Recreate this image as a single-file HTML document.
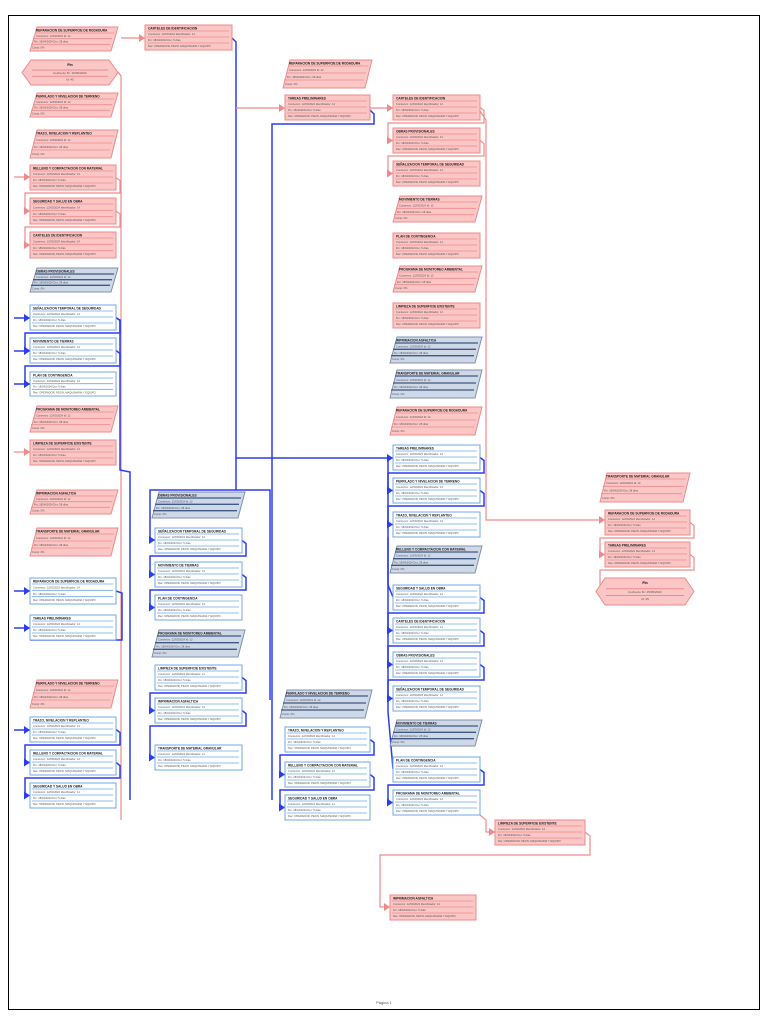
<!DOCTYPE html>
<html><head><meta charset="utf-8"><style>
html,body{margin:0;padding:0;background:#fff;width:768px;height:1024px;overflow:hidden}
#f{position:absolute;left:8px;top:15px;width:752px;height:995px;border:1px solid #000;box-sizing:border-box}
svg{position:absolute;left:0;top:0}
text{font-family:"Liberation Sans",sans-serif}
</style></head><body>
<div id="f"></div>
<svg id="s" width="768" height="1024" viewBox="0 0 768 1024"></svg>
<script>
var S=document.getElementById('s');var h='';
var C={r:['#fbc6c6','#ef8a8a','#ef8a8a'],b:['#ffffff','#6fa8ea','#6fa8ea'],g:['#cfd8e6','#7f90ae','#3f5a86']};
var T=['REPARACION DE SUPERFICIE DE RODADURA','TAREAS PRELIMINARES','PERFILADO Y NIVELACION DE TERRENO','TRAZO, NIVELACION Y REPLANTEO','RELLENO Y COMPACTACION CON MATERIAL','SEGURIDAD Y SALUD EN OBRA','CARTELES DE IDENTIFICACION','OBRAS PROVISIONALES','SEÑALIZACION TEMPORAL DE SEGURIDAD','MOVIMIENTO DE TIERRAS','PLAN DE CONTINGENCIA','PROGRAMA DE MONITOREO AMBIENTAL','LIMPIEZA DE SUPERFICIE EXISTENTE','IMPRIMACION ASFALTICA','TRANSPORTE DE MATERIAL GRANULAR'];
var ti=0;
function box(t,x,y,w,hh,shape){var c=C[t];var x2=x+w,y2=y+hh,p;
 if(shape=='p')p=(x+7)+','+y+' '+x2+','+y+' '+(x2-7)+','+y2+' '+x+','+y2;
 else if(shape=='h')p=x+','+(y+hh/2)+' '+(x+9)+','+y+' '+(x2-9)+','+y+' '+x2+','+(y+hh/2)+' '+(x2-9)+','+y2+' '+(x+9)+','+y2;
 else p=x+','+y+' '+x2+','+y+' '+x2+','+y2+' '+x+','+y2;
 h+='<polygon points="'+p+'" fill="'+c[0]+'" stroke="'+c[1]+'" stroke-width="1"/>';
 var title=T[(ti++)%T.length];
 if(shape=='h'){h+='<text x="'+(x+w/2)+'" y="'+(y+6)+'" font-size="3.5" font-weight="bold" text-anchor="middle">Fin</text>';
  h+='<line x1="'+(x+10)+'" x2="'+(x2-10)+'" y1="'+(y+hh*0.4)+'" y2="'+(y+hh*0.4)+'" stroke="'+c[2]+'" stroke-width="1"/>';
  h+='<text x="'+(x+w/2)+'" y="'+(y+hh*0.55)+'" font-size="3" text-anchor="middle" fill="#555">Fecha de fin: 15/05/2024</text>';
  h+='<line x1="'+(x+10)+'" x2="'+(x2-10)+'" y1="'+(y+hh*0.65)+'" y2="'+(y+hh*0.65)+'" stroke="'+c[2]+'" stroke-width="1"/>';
  h+='<text x="'+(x+w/2)+'" y="'+(y+hh*0.82)+'" font-size="3" text-anchor="middle" fill="#555">Id: 45</text>';return;}
 var o=shape=='p'?5:2;
 h+='<text x="'+(x+o+1)+'" y="'+(y+4.5)+'" font-size="3.2" font-weight="bold" fill="#222">'+title+'</text>';
 var rows=shape=='p'?['Comienzo: 12/03/2024    Id: 12','Fin: 18/04/2024    Dur: 28 días','Comp: 0%']:['Comienzo: 12/03/2024    Identificador: 14','Fin: 18/04/2024    Dur: 5 días','Rec: OPERADOR, PEON, MAQUINARIA Y EQUIPO'];
 for(var i=0;i<3;i++){var ly=y+6+i*(hh-7)/3;var oo=shape=='p'?o-i*2:o;
  h+='<line x1="'+(x+oo)+'" x2="'+(x2-(shape=='p'?4+i*2:3))+'" y1="'+ly+'" y2="'+ly+'" stroke="'+c[2]+'" stroke-width="'+(t=='g'?1.3:0.8)+'"/>';
  h+='<text x="'+(x+oo+1)+'" y="'+(ly+(hh-7)/3*0.7)+'" font-size="2.7" fill="#555">'+rows[i]+'</text>';}
}
function L(col,pts,arrow){var c=col=='b'?'#2b3df0':'#f08a8a';h+='<polyline points="'+pts+'" fill="none" stroke="'+c+'" stroke-width="'+(col=='b'?1.5:1.2)+'"/>';
 if(arrow){var a=arrow;h+='<polygon points="'+a[0]+','+a[1]+' '+(a[0]-6)+','+(a[1]-4)+' '+(a[0]-6)+','+(a[1]+4)+'" fill="'+c+'"/>';}}
function chain(col,x,list,w){for(var i=0;i<list.length-1;i++){var a=list[i],b=list[i+1];var m=(a[0]+a[1])/2,nm=(b[0]+b[1])/2;
 L(col,(x+w)+','+m+' '+(x+w+4)+','+(m+3)+' '+(x+w+4)+','+(a[1]+3)+' '+(x-5)+','+(a[1]+3)+' '+(x-5)+','+nm+' '+x+','+nm,[x,nm]);}}
L('r','118,72 121,76 121,820',null);
L('r','121,38 145,38',[145,38]);
L('b','232,38 236,42 236,458 393,458',[393,458]);
L('r','236,108 285,108',[285,108]);
L('r','370,108 393,108',[393,108]);
L('b','370,110 374,114 374,124 272,124 272,800',null);
L('r','480,111 486,120 486,520 605,520',[605,520]);
L('b','116,318 120,320 120,470 130,472 130,800',null);
chain('r',393,[[95,120],[128,153],[161,186]],87);
chain('b',393,[[445,470],[478,503],[512,537]],87);
chain('b',393,[[585,610],[618,643],[652,677],[686,711]],87);
chain('b',393,[[757,782],[790,815]],87);
chain('b',155,[[528,553],[562,587],[595,620]],87);
chain('b',155,[[665,690],[698,723],[745,770]],87);
chain('b',285,[[727,752],[762,787],[795,820]],85);
chain('r',605,[[510,535],[542,567],[578,605]],85);
chain('b',30,[[305,330],[338,363],[372,396]],86);
chain('b',30,[[717,742],[750,775],[783,808]],86);
chain('r',30,[[165,190],[198,224],[232,258]],86);
L('b','388,537 388,585 393,597',null);
L('r','480,815 486,820 486,832 495,832',[495,832]);
L('r','585,832 590,836 590,855 380,855 380,907 390,907',[390,907]);
L('b','236,458 236,490 150,490 150,540 155,540',[155,540]);
L('b','236,490 270,490 270,700',null);
L('b','116,591 122,593 122,640 30,640',null);
L('b','14,318 30,318',[30,318]);L('b','14,351 30,351',[30,351]);L('b','14,384 30,384',[30,384]);
L('r','14,177 30,177',[30,177]);L('r','14,452 30,452',[30,452]);
L('b','14,591 30,591',[30,591]);L('b','14,628 30,628',[30,628]);
L('b','14,730 30,730',[30,730]);
L('b','388,458 388,712 393,769',null);
var col1=[['r',27,24,'p'],['r',60,25,'h'],['r',93,24,'p'],['r',130,28,'p'],['r',165,25],['r',198,26],['r',232,26],['g',268,24,'p'],['b',305,25],['b',338,25],['b',372,24],['r',406,26,'p'],['r',440,25],['r',490,24,'p'],['r',528,28,'p'],['b',578,26],['b',615,25],['r',680,28,'p'],['b',717,25],['b',750,25],['b',783,25]];
col1.forEach(function(b){box(b[0],b[3]=='h'?22:30,b[1],b[3]=='h'?96:(b[3]=='p'?88:86),b[2],b[3]);});
[['r',25,25,145,87],['g',492,26,152,93,'p'],['b',528,25,155,87],['b',562,25,155,87],['b',595,25,155,87],['g',630,27,152,93,'p'],['b',665,25,155,87],['b',698,25,155,87],['b',745,25,155,87],
 ['r',60,28,283,89,'p'],['r',95,25,285,85],['g',690,28,280,92,'p'],['b',727,25,285,85],['b',762,25,285,85],['b',795,25,285,85],
 ['r',95,25,393,87],['r',128,25,393,87],['r',161,25,393,87],['r',196,26,393,89,'p'],['r',233,25,393,87],['r',266,26,393,89,'p'],['r',303,25,393,87],['g',337,26,390,92,'p'],['g',370,28,390,92,'p'],['r',407,28,390,92,'p'],
 ['b',445,25,393,87],['b',478,25,393,87],['b',512,25,393,87],['g',546,27,390,92,'p'],['b',585,25,393,87],['b',618,25,393,87],['b',652,25,393,87],['b',686,25,393,87],['g',720,26,390,92,'p'],['b',757,25,393,87],['b',790,25,393,87],
 ['r',820,25,495,90],['r',895,25,390,86],
 ['r',473,29,600,90,'p'],['r',510,25,605,85],['r',542,25,605,85],['r',578,27,596,98,'h']
].forEach(function(b){box(b[0],b[3],b[1],b[4],b[2],b[5]);});
h+='<text x="384" y="1004" font-size="4" text-anchor="middle" fill="#555">Página 1</text>';
S.innerHTML=h;
</script>
</body></html>
